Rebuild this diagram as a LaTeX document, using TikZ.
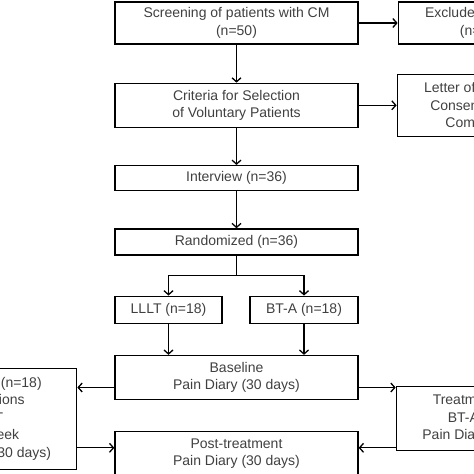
\documentclass[tikz,border=0pt]{standalone}
\usepackage{fontspec}
\setmainfont{Liberation Sans}
\usetikzlibrary{arrows.meta,positioning,calc}
\begin{document}
\begin{tikzpicture}[
        x=1pt, y=-1pt,
        font=\fontsize{14}{17.5}\selectfont,
        caja/.style={draw, line width=1.3pt, align=center, text=black!75, minimum width=243pt, inner sep=2pt},
        lado/.style={caja, minimum width=164pt},
        linea/.style={line width=1.3pt},
        flecha/.style={-{Straight Barb[length=4pt,width=9pt]}, line width=1.3pt}
    ]
        \useasboundingbox (0,0) rectangle (474,474);
        \clip (0,0) rectangle (474,474);

        \node[caja, minimum height=42pt] (screen) at (236.5,23) {Screening of patients with CM\\(n=50)};
        \node[lado, minimum height=42pt, right=39pt of screen] (excl) {Excluded patients\\(n=14)};

        \node[caja, minimum height=44pt, below=38pt of screen] (crit) {Criteria for Selection\\of Voluntary Patients};
        \node[lado, minimum height=62pt, right=38pt of crit] (letter) {Letter of Informed\\Consent, Ethics\\Committee};

        \node[caja, minimum height=25pt, below=37pt of crit] (inter) {Interview (n=36)};
        \node[caja, minimum height=26pt, below=37pt of inter] (rand) {Randomized (n=36)};

        \node[caja, minimum width=107pt, minimum height=27pt, below=40pt of rand.south west, anchor=north west] (lllt) {LLLT (n=18)};
        \node[caja, minimum width=108pt, minimum height=27pt, below=40pt of rand.south east, anchor=north east] (bta) {BT-A (n=18)};

        \coordinate (mid) at (lllt.south -| rand.south);
        \node[caja, minimum height=44pt, below=31pt of mid] (base) {Baseline\\Pain Diary (30 days)};
        \node[caja, minimum height=44pt, below=31pt of base] (post) {Post-treatment\\Pain Diary (30 days)};

        \coordinate (izq) at ([yshift=-3pt]$(base.south west)!0.5!(post.north west)$);
        \coordinate (der) at ([yshift=-3pt]$(base.south east)!0.5!(post.north east)$);
        \node[caja, minimum width=178pt, minimum height=101pt, left=37pt of izq] (lgrp) {Treatment (n=18)\\10 sessions\\LLLT\\1x a week\\Pain Diary (30 days)};
        \node[caja, minimum width=179pt, minimum height=64pt, right=37pt of der] (rgrp) {Treatment Group\\BT-A (n=18)\\Pain Diary (30 days)};

        \draw[flecha] (screen) -- (excl);
        \draw[flecha] (screen) -- (crit);
        \draw[flecha] (crit) -- (letter);
        \draw[flecha] (crit) -- (inter);
        \draw[flecha] (inter) -- (rand);
        \draw[linea] (rand.south) -- ++(0,20) coordinate (split);
        \draw[flecha] (split) -| (lllt.north);
        \draw[flecha] (split) -| (bta.north);
        \draw[flecha] (lllt.south) -- (lllt.south |- base.north);
        \draw[flecha] (bta.south) -- (bta.south |- base.north);
        \draw[flecha] ([yshift=-10pt]base.west) -- ([yshift=-10pt]base.west -| lgrp.east);
        \draw[flecha] ([yshift=-10pt]base.east) -- ([yshift=-10pt]base.east -| rgrp.west);
        \draw[flecha] ([yshift=6pt]post.west -| lgrp.east) -- ([yshift=6pt]post.west);
        \draw[flecha] ([yshift=6pt]post.east -| rgrp.west) -- ([yshift=6pt]post.east);
    \end{tikzpicture}
\end{document}
